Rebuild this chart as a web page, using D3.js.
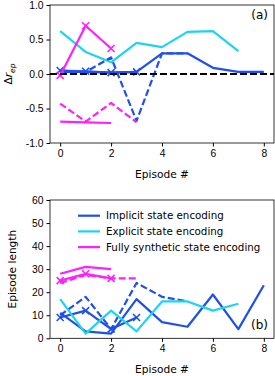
<!DOCTYPE html>
<html>
<head>
<meta charset="utf-8">
<script src="https://cdn.jsdelivr.net/npm/d3@7"></script>
<style>
  body { margin: 0; background: #fff; }
  svg { display: block; font-family: "DejaVu Sans", sans-serif; }
  .tick text { font-size: 10.3px; fill: #000; }
  .tick line, .domain { stroke: #000; }
</style>
</head>
<body>
<div id="chart"></div>
<script>
// Episode indices
const episodes = [0, 1, 2, 3, 4, 5, 6, 7, 8];

// Δr_ep per episode (top panel)
const implicitSolidR = [0.03, 0.03, 0.02, 0.03, 0.30, 0.30, 0.09, 0.03, 0.03];
const implicitDashR = [0.05, 0.03, 0.24, -0.68, 0.30, 0.30];
const implicitCrossR = [0.05, 0.04, 0.02, 0.03];
const explicitR = [0.62, 0.32, 0.17, 0.45, 0.39, 0.61, 0.62, 0.33];
const syntheticSolidR = [-0.69, -0.70, -0.71];
const syntheticDashR = [-0.43, -0.69, -0.42, -0.70];
const syntheticCrossR = [-0.02, 0.70, 0.37];

// Episode length per episode (bottom panel)
const implicitSolidL = [11, 3, 2, 17, 7, 5, 19, 4, 23];
const implicitDashL = [10, 18, 4, 24, 18, 16];
const implicitCrossL = [9, 12, 4, 9];
const explicitL = [17, 2, 12, 3, 16, 16, 12, 15];
const syntheticSolidL = [28, 31, 30];
const syntheticDashL = [24, 27.5, 26, 26];
const syntheticCrossL = [25, 28, 26];

const xTicks = [0, 2, 4, 6, 8];
const rTicks = [1.0, 0.5, 0.0, -0.5, -1.0];
const lenTicks = [0, 10, 20, 30, 40, 50, 60];
const legendNames = ['Implicit state encoding', 'Explicit state encoding', 'Fully synthetic state encoding'];

const BLUE = '#1f50ee', CYAN = '#1dd3f2', MAGENTA = '#ff20ff';

const W = 275, H = 376;
const svg = d3.select('#chart').append('svg').attr('width', W).attr('height', H);

const x = d3.scaleLinear().domain([-0.4, 8.4]).range([50, 274]);

function panel(top, bottom, yDomain, yTicks, yFmt, series, ylabel, labelX, tag, tagY) {
  const y = d3.scaleLinear().domain(yDomain).range([bottom, top]);
  const id = 'clip' + top;
  svg.append('clipPath').attr('id', id).append('rect')
    .attr('x', 50).attr('y', top).attr('width', 224).attr('height', bottom - top);

  const plot = svg.append('g').attr('clip-path', `url(#${id})`);
  const line = d3.line().x((d, i) => x(episodes[i])).y(d => y(d));

  series.forEach(s => {
    plot.append('path')
      .attr('d', line(s.values))
      .attr('fill', 'none')
      .attr('stroke', s.color)
      .attr('stroke-width', 2.2)
      .attr('stroke-dasharray', s.dash ? '7,3' : null)
      .attr('stroke-linejoin', 'round');
    if (s.marker) {
      s.values.forEach((v, i) => {
        const cx = x(episodes[i]), cy = y(v), r = 3.5;
        plot.append('path')
          .attr('d', `M${cx - r},${cy - r}L${cx + r},${cy + r}M${cx - r},${cy + r}L${cx + r},${cy - r}`)
          .attr('stroke', s.color).attr('stroke-width', 1.6);
      });
    }
  });

  svg.append('g').attr('transform', `translate(0,${bottom})`)
    .call(d3.axisBottom(x).tickValues(xTicks).tickSize(3.5).tickPadding(3).tickFormat(d3.format('d')))
    .call(g => g.select('.domain').remove());
  svg.append('g').attr('transform', 'translate(50,0)')
    .call(d3.axisLeft(y).tickValues(yTicks).tickSize(3.5).tickPadding(3).tickFormat(yFmt))
    .call(g => g.select('.domain').remove());

  svg.append('rect').attr('x', 50).attr('y', top).attr('width', 224).attr('height', bottom - top)
    .attr('fill', 'none').attr('stroke', '#000').attr('stroke-width', 0.8);

  svg.append('text').attr('x', 162).attr('y', bottom + 35)
    .attr('text-anchor', 'middle').attr('font-size', 10.6).text('Episode #');

  const yl = svg.append('text')
    .attr('transform', `translate(${labelX},${(top + bottom) / 2}) rotate(-90)`)
    .attr('text-anchor', 'middle').attr('font-size', 10.6);
  ylabel(yl);

  svg.append('text').attr('x', 268).attr('y', tagY)
    .attr('text-anchor', 'end').attr('font-size', 12).text(tag);
  return y;
}

const fmtR = d => d3.format('.1f')(d).replace('−', '-');

const yTop = panel(5, 143, [-1, 1], rTicks, fmtR, [
  { values: explicitR, color: CYAN },
  { values: implicitSolidR, color: BLUE },
  { values: implicitDashR, color: BLUE, dash: true },
  { values: implicitCrossR, color: BLUE, marker: true },
  { values: syntheticSolidR, color: MAGENTA },
  { values: syntheticDashR, color: MAGENTA, dash: true },
  { values: syntheticCrossR, color: MAGENTA, marker: true }
], t => {
  t.append('tspan').text('Δ');
  t.append('tspan').attr('font-style', 'italic').text('r');
  t.append('tspan').attr('font-style', 'italic').attr('font-size', 7.5).attr('dy', 3).text('ep');
}, 12, '(a)', 19);

// zero reference line
svg.append('line').attr('x1', 50).attr('x2', 274).attr('y1', yTop(0)).attr('y2', yTop(0))
  .attr('stroke', '#000').attr('stroke-width', 2).attr('stroke-dasharray', '7,3');

panel(200, 338.3, [0, 60], lenTicks, d3.format('d'), [
  { values: implicitSolidL, color: BLUE },
  { values: implicitDashL, color: BLUE, dash: true },
  { values: implicitCrossL, color: BLUE, marker: true },
  { values: explicitL, color: CYAN },
  { values: syntheticSolidL, color: MAGENTA },
  { values: syntheticDashL, color: MAGENTA, dash: true },
  { values: syntheticCrossL, color: MAGENTA, marker: true }
], t => t.text('Episode length'), 16, '(b)', 329);

// legend
const legend = svg.append('g');
[BLUE, CYAN, MAGENTA].forEach((c, i) => {
  const ly = 215.7 + i * 15.7;
  legend.append('line').attr('x1', 78).attr('x2', 100).attr('y1', ly).attr('y2', ly)
    .attr('stroke', c).attr('stroke-width', 2.2);
  legend.append('text').attr('x', 106).attr('y', ly + 3.7).attr('font-size', 10.3)
    .text(legendNames[i]);
});
</script>
</body>
</html>
